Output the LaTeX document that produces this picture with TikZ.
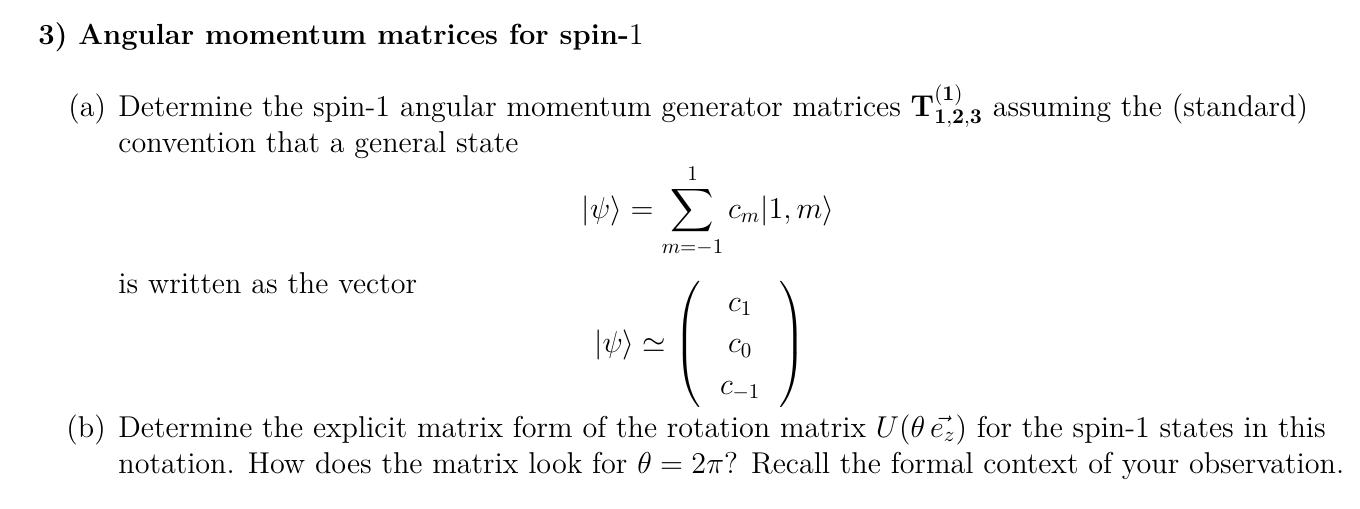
\documentclass[tikz,border=0pt]{standalone}
\usepackage{amsmath,amssymb}
\begin{document}
\begin{tikzpicture}[x=0.478pt,y=-0.478pt,
  txt/.style={anchor=base west,inner sep=0pt,font=\fontsize{14.4}{18}\selectfont},
  eq/.style={anchor=base,inner sep=0pt,font=\fontsize{14.4}{18}\selectfont}]
\useasboundingbox (0,0) rectangle (1360,508);
\node[txt] (title) at (38,44) {\fontsize{13.9}{18}\selectfont\bfseries 3)\ Angular momentum matrices for spin-$1$};
\node[txt] (a) at (68,116) {(a)};
\node[txt] (a1) at (118,116) {Determine the spin-1 angular momentum generator matrices $\mathbf{T}^{(\mathbf{1})}_{\mathbf{1,2,3}}$ assuming the (standard)};
\node[txt] (a2) at (118,152) {convention that a general state};
\node[eq] (e1) at (708,218) {$\displaystyle|\psi\rangle=\sum_{m=-1}^{1}c_m|1,m\rangle$};
\node[txt] (a3) at (118,293) {is written as the vector};
\node[eq] (e2) at (700,352) {$\displaystyle|\psi\rangle\simeq\left(\;\renewcommand{\arraystretch}{1.1}\begin{array}{c}c_1\\ c_0\\ c_{-1}\end{array}\;\right)$};
\node[txt] (b) at (66,437) {(b)};
\node[txt] (b1) at (118,437) {Determine the explicit matrix form of the rotation matrix $U(\theta\,\vec{e_z})$ for the spin-1 states in this};
\node[txt] (b2) at (118,473) {notation. How does the matrix look for $\theta=2\pi$? Recall the formal context of your observation.};
\end{tikzpicture}
\end{document}
